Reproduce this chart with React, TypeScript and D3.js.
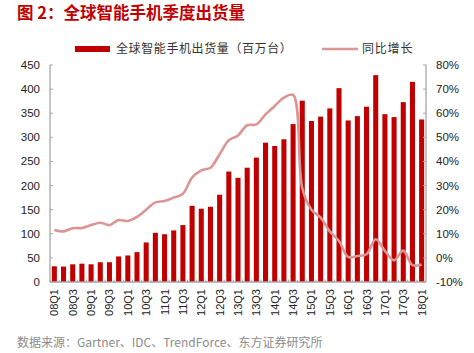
import React from 'react';
import * as d3 from 'd3';

// quarters 08Q1 .. 18Q1
const years = d3.range(8, 19);
const quarters: string[] = [];
years.forEach(y => {
  [1, 2, 3, 4].forEach(q => {
    if (y === 18 && q > 1) return;
    quarters.push(`${String(y).padStart(2, '0')}Q${q}`);
  });
});

// 全球智能手机出货量（百万台）
const shipments = [
  32.5, 32, 36.7, 38, 36.7, 41, 41, 53, 55, 62, 82, 102,
  99, 107, 118, 158, 152, 156, 181, 229, 216, 237, 258, 289, 282, 296, 327.5, 376,
  334, 343, 360, 402, 335, 344, 363.5, 429, 348, 342, 373, 415, 337,
];

// 同比增长 (%)
const growth = [
  11.6, 11.0, 12.3, 12.4, 13.6, 14.6, 13.6, 15.7, 15.3, 17.0, 20.0, 23.0,
  23.6, 25.0, 26.6, 33.3, 36.3, 37.4, 43.0, 48.8, 50.8, 55.0, 55.4, 59.5, 63.0, 66.5, 67.6, 29,
  20, 16.7, 11, 7, 0.4, 0.8, 1.5, 7.7, 2.9, -1, 3, -3, -2.7,
];

const leftTicks = d3.range(0, 451, 50);
const rightTicks = d3.range(-10, 81, 10);

const title = '图 2：全球智能手机季度出货量';
const barLabel = '全球智能手机出货量（百万台）';
const lineLabel = '同比增长';
const source = '数据来源：Gartner、IDC、TrendForce、东方证券研究所';

const W = 474;
const H = 353;
const left = 50;
const right = 426;
const top = 65;
const bottom = 282;

const barColor = '#C00000';
const lineColor = '#D99694';
const axisColor = '#A6A6A6';
const sans = '"Liberation Sans", Arial, sans-serif';
const cjk = '"Noto Sans CJK SC", sans-serif';

export default function App() {
  const x = d3.scaleBand<string>().domain(quarters).range([left, right]).paddingInner(0.45).paddingOuter(0.2);
  const yL = d3.scaleLinear().domain([0, 450]).range([bottom, top]);
  const yR = d3.scaleLinear().domain([-10, 80]).range([bottom, top]);

  const line = d3.line<number>()
    .x((_, i) => (x(quarters[i]) as number) + x.bandwidth() / 2)
    .y(d => yR(d))
    .curve(d3.curveCatmullRom.alpha(0.5));

  const step = (right - left) / quarters.length;

  return (
    <svg width={W} height={H} style={{ position: 'absolute', left: 0, top: 0, background: '#fff' }}>
      <text x={17} y={19} fill={barColor} fontSize={16.5} fontWeight="bold" fontFamily={cjk}>{title}</text>

      {/* legend */}
      <rect x={75} y={46} width={35} height={6} fill={barColor} />
      <text x={116} y={53} fontSize={12} letterSpacing={0.6} fill="#333" fontFamily={cjk}>{barLabel}</text>
      <line x1={322} x2={358} y1={49} y2={49} stroke={lineColor} strokeWidth={2.5} />
      <text x={362} y={53} fontSize={12} letterSpacing={0.8} fill="#333" fontFamily={cjk}>{lineLabel}</text>

      {/* bars */}
      {shipments.map((v, i) => (
        <rect key={quarters[i]} x={x(quarters[i])} y={yL(v)} width={x.bandwidth()} height={bottom - yL(v)} fill={barColor} />
      ))}

      {/* growth line */}
      <path d={line(growth) || ''} fill="none" stroke={lineColor} strokeWidth={2.6} strokeLinejoin="round" />

      {/* axes */}
      <line x1={left} x2={left} y1={top} y2={bottom} stroke={axisColor} strokeWidth={1.3} />
      <line x1={right} x2={right} y1={top} y2={bottom} stroke={axisColor} strokeWidth={1.3} />
      <line x1={left} x2={right} y1={bottom} y2={bottom} stroke={axisColor} strokeWidth={1.3} />
      {leftTicks.map(t => (
        <g key={'l' + t}>
          <line x1={left} x2={left + 3} y1={yL(t)} y2={yL(t)} stroke={axisColor} />
          <text x={40} y={yL(t) + 4} textAnchor="end" fontSize={11.5} fill="#222" fontFamily={sans}>{t}</text>
        </g>
      ))}
      {rightTicks.map(t => (
        <g key={'r' + t}>
          <line x1={right - 3} x2={right} y1={yR(t)} y2={yR(t)} stroke={axisColor} />
          <text x={436} y={yR(t) + 4} fontSize={11.5} fill="#222" fontFamily={sans}>{`${t}%`}</text>
        </g>
      ))}
      {quarters.map((q, i) => (
        <line key={'t' + q} x1={left + step * i} x2={left + step * i} y1={bottom} y2={bottom - 2.5} stroke={axisColor} />
      ))}
      {quarters.map((q, i) => i % 2 === 0 && (
        <text
          key={'x' + q}
          transform={`translate(${(x(q) as number) + x.bandwidth() / 2 + 4},${289}) rotate(-90)`}
          textAnchor="end"
          fontSize={11}
          fill="#222"
          fontFamily={sans}
        >{q}</text>
      ))}

      <text x={17} y={347} fontSize={12} fill="#8c8c8c" fontFamily={cjk}>{source}</text>
    </svg>
  );
}
